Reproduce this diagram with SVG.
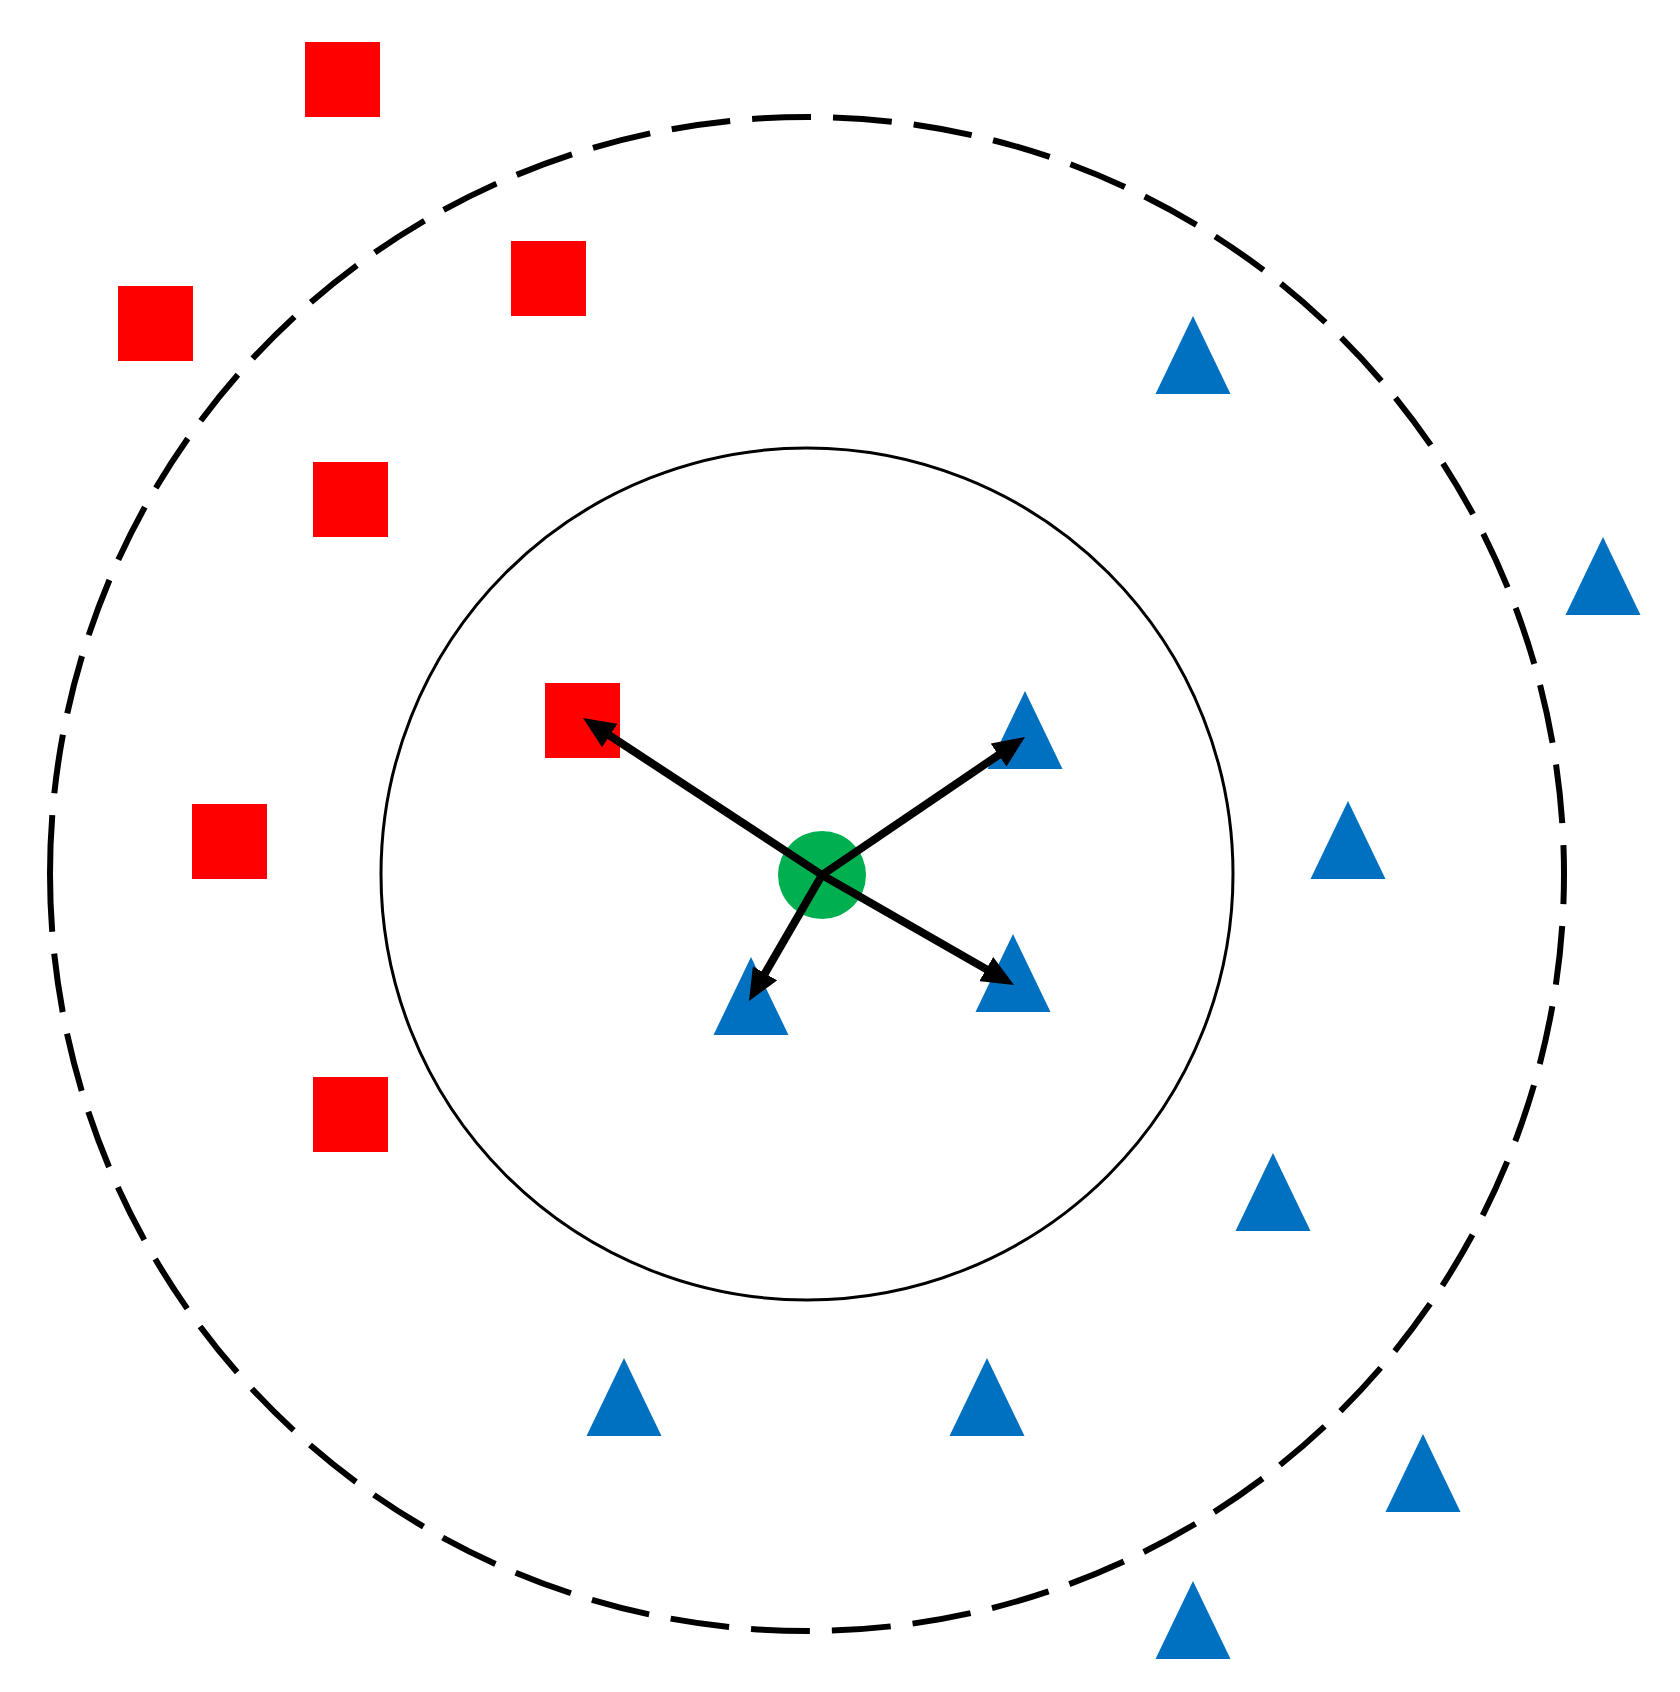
<svg xmlns="http://www.w3.org/2000/svg" width="1680" height="1692" viewBox="0 0 1680 1692">
<style>
.sq{fill:#FF0000}
.tri{fill:#0070C0}
.ring{fill:none;stroke:#000}
.arrow{stroke:#000;stroke-width:8;fill:none;marker-end:url(#ah)}
</style>
<defs>
<marker id="ah" markerUnits="userSpaceOnUse" viewBox="0 0 32 28" refX="10" refY="14" markerWidth="32" markerHeight="28" orient="auto">
<path d="M0,0 L32,14 L0,28 z" fill="#000"/>
</marker>
<polygon id="t" points="0,0 37.5,78 -37.5,78"/>
</defs>
<rect width="1680" height="1692" fill="#fff"/>
<g id="rings">
<path id="outer" class="ring" d="M50,874 A757,757 0 0 1 1564,874 A757,757 0 0 1 50,874" stroke-width="6" stroke-dasharray="59 22"/>
<circle id="inner" class="ring" cx="807" cy="874" r="426" stroke-width="3"/>
</g>
<g id="sq1"><rect class="sq" x="305" y="42" width="75" height="75"/></g>
<g id="sq2"><rect class="sq" x="511" y="241" width="75" height="75"/></g>
<g id="sq3"><rect class="sq" x="118" y="286" width="75" height="75"/></g>
<g id="sq4"><rect class="sq" x="313" y="462" width="75" height="75"/></g>
<g id="sq5"><rect class="sq" x="545" y="683" width="75" height="75"/></g>
<g id="sq6"><rect class="sq" x="192" y="804" width="75" height="75"/></g>
<g id="sq7"><rect class="sq" x="313" y="1077" width="75" height="75"/></g>
<g id="tri1"><use href="#t" class="tri" x="1193" y="316"/></g>
<g id="tri2"><use href="#t" class="tri" x="1603" y="537"/></g>
<g id="tri3"><use href="#t" class="tri" x="1025" y="691"/></g>
<g id="tri4"><use href="#t" class="tri" x="1348" y="801"/></g>
<g id="tri5"><use href="#t" class="tri" x="751" y="957"/></g>
<g id="tri6"><use href="#t" class="tri" x="1013" y="934"/></g>
<g id="tri7"><use href="#t" class="tri" x="1273" y="1153"/></g>
<g id="tri8"><use href="#t" class="tri" x="624" y="1358"/></g>
<g id="tri9"><use href="#t" class="tri" x="987" y="1358"/></g>
<g id="tri10"><use href="#t" class="tri" x="1423" y="1434"/></g>
<g id="tri11"><use href="#t" class="tri" x="1193" y="1581"/></g>
<g id="query"><circle cx="822" cy="875" r="44" fill="#00B050"/></g>
<g id="connectors">
<line class="arrow" x1="822" y1="875" x2="601.4" y2="730.1"/>
<line class="arrow" x1="822" y1="875" x2="1006.8" y2="749.4"/>
<line class="arrow" x1="822" y1="875" x2="760" y2="982"/>
<line class="arrow" x1="822" y1="875" x2="994.9" y2="974.1"/>
</g>
</svg>
